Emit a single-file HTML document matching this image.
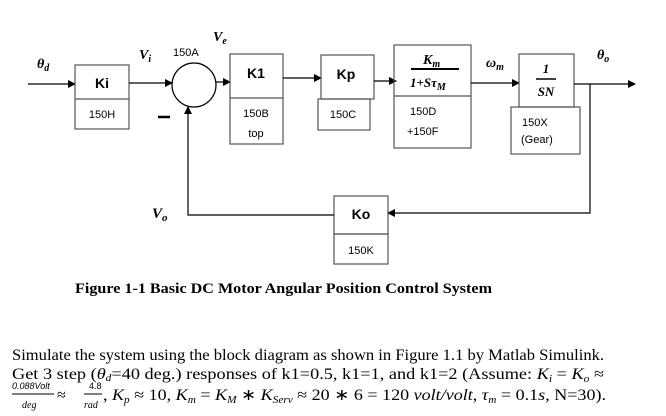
<!DOCTYPE html>
<html><head><style>
body{margin:0;background:#fff;width:666px;height:416px;overflow:hidden}
svg{position:absolute;left:0;top:0}
.b{font-family:"Liberation Sans",sans-serif;font-weight:bold;font-size:14px}
.s{font-family:"Liberation Sans",sans-serif;font-size:11px}
.m{font-family:"Liberation Serif",serif;font-style:italic;font-weight:bold}
.t{font-family:"Liberation Serif",serif;font-size:16px}
</style></head><body>
<svg width="666" height="416" xmlns="http://www.w3.org/2000/svg">
<defs><marker id="a" markerWidth="8" markerHeight="8" refX="7" refY="4" orient="auto" markerUnits="userSpaceOnUse"><path d="M0,0 L8,4 L0,8z" fill="#000"/></marker></defs>
<g stroke="#000" stroke-width="1.2" fill="none">
<line x1="28" y1="84" x2="75" y2="84" marker-end="url(#a)"/>
<rect x="75" y="65" width="54" height="64" stroke="#555"/><line x1="75" y1="99" x2="129" y2="99" stroke="#555"/>
<line x1="129" y1="83" x2="172" y2="83" marker-end="url(#a)"/>
<circle cx="194" cy="85" r="22"/>
<line x1="216" y1="82" x2="230" y2="82" marker-end="url(#a)"/>
<rect x="230" y="54" width="53" height="90" stroke="#555"/><line x1="230" y1="98" x2="283" y2="98" stroke="#555"/>
<line x1="283" y1="78" x2="321" y2="78" marker-end="url(#a)"/>
<rect x="321" y="55" width="53" height="44" stroke="#555"/><rect x="318" y="99" width="52" height="31" stroke="#555"/>
<line x1="374" y1="81" x2="396" y2="81" marker-end="url(#a)"/>
<rect x="394" y="45" width="77" height="103" stroke="#555"/><line x1="394" y1="96" x2="471" y2="96" stroke="#555"/>
<line x1="471" y1="83" x2="519" y2="83" marker-end="url(#a)"/>
<rect x="519" y="54" width="55" height="53" stroke="#555"/><rect x="511" y="107" width="69" height="47" stroke="#555"/>
<line x1="574" y1="84" x2="635" y2="84" marker-end="url(#a)"/>
<polyline points="590,84 590,213 388,213" marker-end="url(#a)"/>
<rect x="334" y="196" width="54" height="38" stroke="#555"/><rect x="334" y="234" width="54" height="30" stroke="#555"/>
<polyline points="334,215 188,215 188,107" marker-end="url(#a)"/>
<line x1="158" y1="117" x2="170" y2="117" stroke-width="2.5"/>
<line x1="411" y1="69" x2="459" y2="69" stroke-width="2"/>
<line x1="536" y1="79" x2="556" y2="79" stroke-width="1.5"/>
</g>
<g class="m" font-size="14">
<text x="37" y="68">θ<tspan font-size="10" dy="3">d</tspan></text>
<text x="139" y="59">V<tspan font-size="10" dy="3">i</tspan></text>
<text x="213" y="41">V<tspan font-size="10" dy="3">e</tspan></text>
<text x="486" y="67">ω<tspan font-size="10" dy="3">m</tspan></text>
<text x="597" y="59">θ<tspan font-size="10" dy="3">o</tspan></text>
<text x="152" y="218" font-size="15">V<tspan font-size="11" dy="3">o</tspan></text>
<text x="423" y="64" font-size="14">K<tspan font-size="10" dy="3">m</tspan></text>
<text x="410" y="87" font-size="13">1+Sτ<tspan font-size="10" dy="3">M</tspan></text>
<text x="546" y="73" text-anchor="middle" font-size="13">1</text>
<text x="546" y="96" text-anchor="middle" font-size="13">SN</text>
</g>
<g class="b" text-anchor="middle">
<text x="102" y="88">Ki</text><text x="256" y="78">K1</text><text x="346" y="79">Kp</text><text x="361" y="219">Ko</text>
</g>
<g class="s">
<text x="173" y="56">150A</text>
<text x="102" y="118" text-anchor="middle">150H</text>
<text x="256" y="117" text-anchor="middle">150B</text><text x="256" y="137" text-anchor="middle">top</text>
<text x="343" y="118" text-anchor="middle">150C</text>
<text x="410" y="115">150D</text><text x="407" y="135">+150F</text>
<text x="522" y="126">150X</text><text x="521" y="143">(Gear)</text>
<text x="361" y="254" text-anchor="middle">150K</text>
</g>
<text x="75" y="293" font-family="Liberation Serif,serif" font-weight="bold" font-size="14.5" textLength="417" lengthAdjust="spacingAndGlyphs">Figure 1-1   Basic DC Motor Angular Position Control System</text>
<g class="t">
<text x="12" y="360" textLength="592" lengthAdjust="spacingAndGlyphs">Simulate the system using the block diagram as shown in Figure 1.1 by Matlab Simulink.</text>
<text x="12" y="379" textLength="592" lengthAdjust="spacingAndGlyphs">Get 3 step (<tspan font-style="italic">θ<tspan font-size="10" dy="2">d</tspan></tspan><tspan dy="-2">=40 deg.) responses of k1=0.5, k1=1, and k1=2 (Assume: </tspan><tspan font-style="italic">K<tspan font-size="10" dy="3">i</tspan></tspan><tspan dy="-3"> = </tspan><tspan font-style="italic">K<tspan font-size="10" dy="3">o</tspan></tspan><tspan dy="-3"> ≈</tspan></text>
<text x="12" y="389" font-size="9" font-style="italic" font-family="Liberation Sans,sans-serif">0.088Volt</text>
<line x1="12" y1="394" x2="54" y2="394" stroke="#000" stroke-width="1"/>
<text x="22" y="408" font-size="10" font-style="italic">deg</text>
<text x="57" y="400">≈</text>
<text x="89" y="389" font-size="9" font-family="Liberation Sans,sans-serif">4.8</text>
<line x1="84" y1="394" x2="102" y2="394" stroke="#000" stroke-width="1"/>
<text x="84" y="408" font-size="10" font-style="italic">rad</text>
<text x="103" y="400" textLength="503" lengthAdjust="spacingAndGlyphs">, <tspan font-style="italic">K<tspan font-size="10" dy="3">p</tspan></tspan><tspan dy="-3"> ≈ 10,  </tspan><tspan font-style="italic">K<tspan font-size="10" dy="3">m</tspan></tspan><tspan dy="-3"> = </tspan><tspan font-style="italic">K<tspan font-size="10" dy="3">M</tspan></tspan><tspan dy="-3"> ∗ </tspan><tspan font-style="italic">K<tspan font-size="10" dy="3">Serv</tspan></tspan><tspan dy="-3"> ≈ 20 ∗ 6 = 120 </tspan><tspan font-style="italic">volt/volt</tspan>, <tspan font-style="italic">τ<tspan font-size="10" dy="3">m</tspan></tspan><tspan dy="-3"> = 0.1</tspan><tspan font-style="italic">s</tspan>, N=30).</text>
</g>
</svg>
</body></html>
